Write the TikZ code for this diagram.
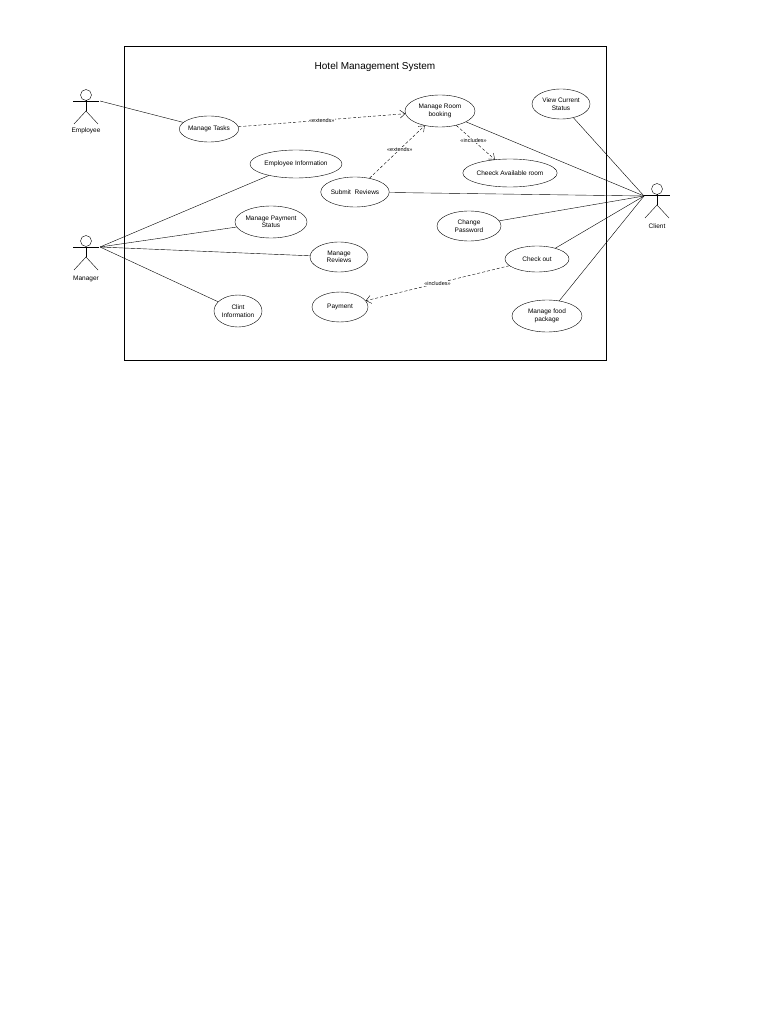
\documentclass[tikz,border=0pt]{standalone}
\usepackage{fontspec}
\setmainfont{Liberation Sans}
\usetikzlibrary{shapes.geometric,arrows.meta}
\begin{document}
\begin{tikzpicture}[x=1pt,y=-1pt,
 uc/.style={draw,ellipse,inner sep=0pt,font=\fontsize{6.5}{7.5}\selectfont,align=center},
 dep/.style={densely dashed,-{Straight Barb[length=5pt,width=8pt]}},
 lab/.style={font=\fontsize{5.5}{6}\selectfont,fill=white,inner sep=0.5pt},
 alab/.style={font=\fontsize{6.5}{7.5}\selectfont}]
\useasboundingbox (0,0) rectangle (768,1024);
\draw[line width=0.8pt] (124,46) rectangle (606,360);
\node[font=\fontsize{10}{12}\selectfont] (title) at (375,67) {Hotel Management System};
% actors
\newcommand{\actorfig}[3]{%
 \draw (#1,#2) circle (5.5);
 \draw (#1,#2+5.5) -- (#1,#2+16) coordinate (#3b);
 \draw (#1-13,#2+6) -- (#1+13,#2+6);
 \draw (#1-12,#2+29) -- (#3b) -- (#1+12,#2+29);}
\actorfig{86}{95}{emp}
\actorfig{86}{241}{man}
\actorfig{657}{189}{cli}
\coordinate (E) at (100,101);
\coordinate (M) at (100,247);
\coordinate (C) at (644,196);
\node[alab] (el) at (86,131) {Employee};
\node[alab] (ml) at (86,279) {Manager};
\node[alab] (cl) at (657,226) {Client};
% use cases
\node[uc,minimum width=58,minimum height=26] (mt) at (209,129) {Manage Tasks};
\node[uc,minimum width=92,minimum height=28] (ei) at (296,164) {Employee Information};
\node[uc,minimum width=70,minimum height=32] (mp) at (271,222) {Manage Payment\\Status};
\node[uc,minimum width=58,minimum height=30] (mr) at (339,257) {Manage\\Reviews};
\node[uc,minimum width=48,minimum height=32] (ci) at (238,311) {Clint\\Information};
\node[uc,minimum width=56,minimum height=30] (pay) at (340,307) {Payment};
\node[uc,minimum width=62,minimum height=30] (sr) at (355,192) {Submit\ \ Reviews};
\node[uc,minimum width=70,minimum height=32] (mrb) at (440,111) {Manage Room\\booking};
\node[uc,minimum width=82,minimum height=28] (car) at (510,173) {Cheeck Available room};
\node[uc,minimum width=58,minimum height=30] (vcs) at (561,104) {View Current\\Status};
\node[uc,minimum width=64,minimum height=30] (cp) at (469,226) {Change\\Password};
\node[uc,minimum width=64,minimum height=26] (co) at (537,259) {Check out};
\node[uc,minimum width=70,minimum height=32] (mfp) at (547,316) {Manage food\\package};
% associations
\draw (E) -- (mt);
\foreach \t in {ei,mp,mr,ci} \draw (M) -- (\t);
\foreach \t in {mrb,vcs,sr,cp,co,mfp} \draw (C) -- (\t);
% dependencies
\draw[dep] (mt) -- node[lab] (l1) {<<extends>>} (mrb);
\draw[dep] (sr) -- node[lab,pos=0.55] (l2) {<<extends>>} (mrb);
\draw[dep] (mrb) -- node[lab,pos=0.45] (l3) {<<includes>>} (car);
\draw[dep] (co) -- node[lab] (l4) {<<includes>>} (pay);
\end{tikzpicture}
\end{document}
